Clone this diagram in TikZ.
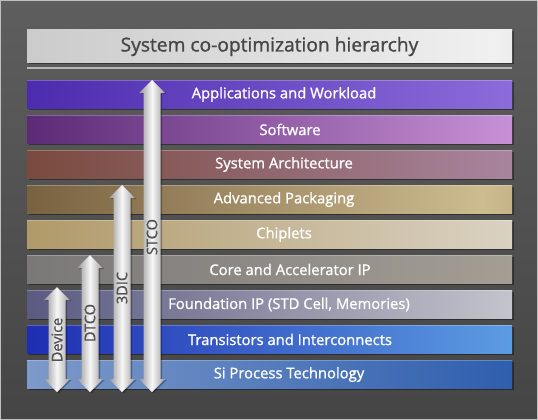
\documentclass[tikz,border=0pt]{standalone}
\usepackage{fontspec}
\setmainfont{Open Sans}[FakeBold=1.2]
\definecolor{bgtop}{HTML}{5E5E5E}
\definecolor{bgbot}{HTML}{454545}
\definecolor{appL}{HTML}{4C2CAE}\definecolor{appR}{HTML}{8C6CDA}
\definecolor{swL}{HTML}{5C2A76}\definecolor{swR}{HTML}{C890D6}
\definecolor{saL}{HTML}{7A4A3E}\definecolor{saR}{HTML}{A8849E}
\definecolor{apL}{HTML}{6A5232}\definecolor{apM}{HTML}{CDBC90}\definecolor{apR}{HTML}{85704E}
\definecolor{chL}{HTML}{B09A6A}\definecolor{chR}{HTML}{DAD2C2}
\definecolor{coL}{HTML}{7A7878}\definecolor{coR}{HTML}{A49E94}
\definecolor{foL}{HTML}{5A5A82}\definecolor{foR}{HTML}{C4C4CC}
\definecolor{trL}{HTML}{1E2EB2}\definecolor{trR}{HTML}{5C9CE2}
\definecolor{siL}{HTML}{7C9ACA}\definecolor{siR}{HTML}{2F5EAE}
\definecolor{tiL}{HTML}{B8B8B8}\definecolor{tiM}{HTML}{F0F0F0}\definecolor{tiR}{HTML}{C4C4C4}
\pgfdeclarehorizontalshading{apshade}{100bp}{color(0bp)=(apL); color(25bp)=(apL!85!apM); color(72bp)=(apM); color(100bp)=(apR)}
\pgfdeclarehorizontalshading{tishade}{100bp}{color(0bp)=(tiL); color(73bp)=(tiM); color(100bp)=(tiR)}
\newcommand\mybar[3]{%
  \fill[black,opacity=0.4] (28.5,#1+1.5) rectangle (513.5,#1+29.5);
  \shade[left color=#2,right color=#3] (27,#1) rectangle (512,#1+28);
  \draw[white,opacity=0.25,line width=0.8pt] (27,#1+0.4) -- (512,#1+0.4);}
\newcommand\myarrow[3]{% center x, top y, bottom y
  \fill[black,opacity=0.3] (#1+1.5,#2+1) -- (#1+14.5,#2+14) -- (#1+10,#2+14) -- (#1+10,#3-12) -- (#1+14.5,#3-12)
   -- (#1+1.5,#3+1) -- (#1-11.5,#3-12) -- (#1-7,#3-12) -- (#1-7,#2+14) -- (#1-11.5,#2+14) -- cycle;
  \shade[arr] (#1,#2) -- (#1+13,#2+13) -- (#1+8.5,#2+13) -- (#1+8.5,#3-13) -- (#1+13,#3-13)
   -- (#1,#3) -- (#1-13,#3-13) -- (#1-8.5,#3-13) -- (#1-8.5,#2+13) -- (#1-13,#2+13) -- cycle;}
\begin{document}
\begin{tikzpicture}[x=1pt,y=-1pt,
  barlabel/.style={text=white,font=\fontsize{14.8}{16}\selectfont},
  arrlabel/.style={text=black!68,font=\fontsize{14.5}{16}\selectfont,rotate=90},
  arr/.style={left color=black!42,right color=black!38,middle color=black!3}]
\useasboundingbox (0,0) rectangle (538,420);
\shade[top color=bgtop,bottom color=bgbot] (0,0) rectangle (538,420);
\draw[black!25,line width=1.2pt] (0.6,0.6) rectangle (537.4,419.4);
% title
\fill[black,opacity=0.4] (28.5,31.5) rectangle (513.5,64.5);
\shade[shading=tishade] (27,30) rectangle (512,63);
\node[text=black!72,font=\fontsize{19.2}{21}\selectfont] (title) at (269.5,46.5) {System co-optimization hierarchy};
\draw[black!28,line width=1.5pt] (27,68) -- (512,68);
% bars
\mybar{80}{appL}{appR}
\mybar{115}{swL}{swR}
\mybar{150}{saL}{saR}
\fill[black,opacity=0.4] (28.5,186.5) rectangle (513.5,214.5);
\shade[shading=apshade] (27,185) rectangle (512,213);
\draw[white,opacity=0.25,line width=0.8pt] (27,185.4) -- (512,185.4);
\mybar{220}{chL}{chR}
\mybar{255}{coL}{coR}
\mybar{290}{foL}{foR}
\mybar{325}{trL}{trR}
\mybar{360}{siL}{siR}
\node[barlabel] (l1) at (284,94.5) {Applications and Workload};
\node[barlabel] (l2) at (290,129.5) {Software};
\node[barlabel] (l3) at (284,164.5) {System Architecture};
\node[barlabel] (l4) at (284,199.5) {Advanced Packaging};
\node[barlabel] (l5) at (284,234.5) {Chiplets};
\node[barlabel] (l6) at (290,269.5) {Core and Accelerator IP};
\node[barlabel] (l7) at (289,304.5) {Foundation IP (STD Cell, Memories)};
\node[barlabel] (l8) at (290,339.5) {Transistors and Interconnects};
\node[barlabel] (l9) at (289,374.5) {Si Process Technology};
% arrows
\myarrow{57}{287}{392}
\myarrow{90}{255}{392}
\myarrow{122}{185}{392}
\myarrow{152}{80}{392}
\node[arrlabel] (dev) at (57,340) {Device};
\node[arrlabel] (dtco) at (90,323) {DTCO};
\node[arrlabel] (tdic) at (122,288) {3DIC};
\node[arrlabel] (stco) at (152,237) {STCO};
\end{tikzpicture}
\end{document}
